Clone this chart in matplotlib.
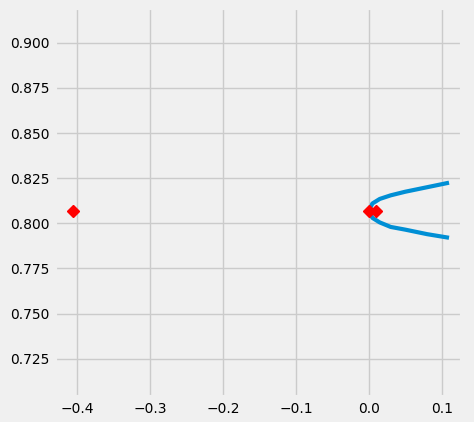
import matplotlib
matplotlib.use("Agg")
import matplotlib.pyplot as plt

plt.style.use("fivethirtyeight")

# curve (upper branch reversed, then lower branch)
curve_x = [0.11, 0.08, 0.05, 0.03, 0.015, 0.005, 0.0, 0.005, 0.015, 0.03, 0.05, 0.08, 0.11]
curve_y = [0.8225, 0.820, 0.8175, 0.8155, 0.8135, 0.811, 0.807, 0.803, 0.8005, 0.798, 0.7965, 0.794, 0.792]

marker_x = [-0.405, 0.0, 0.01]
marker_y = [0.807, 0.807, 0.807]

fig, ax = plt.subplots(figsize=(4.74, 4.22), dpi=100)
fig.patch.set_facecolor("#f0f0f0")
ax.plot(curve_x, curve_y, color="#008fd5", linewidth=3)
ax.plot(marker_x, marker_y, "D", color="red", markersize=6, linestyle="none")
ax.set_xlim(-0.431, 0.128)
ax.set_ylim(0.704, 0.919)
ax.set_xticks([-0.4, -0.3, -0.2, -0.1, 0.0, 0.1])
ax.set_yticks([0.725, 0.75, 0.775, 0.8, 0.825, 0.85, 0.875, 0.9])
ax.tick_params(labelsize=10)
fig.subplots_adjust(left=0.115, right=0.975, top=0.98, bottom=0.06)
fig.savefig("out.png", dpi=100)
